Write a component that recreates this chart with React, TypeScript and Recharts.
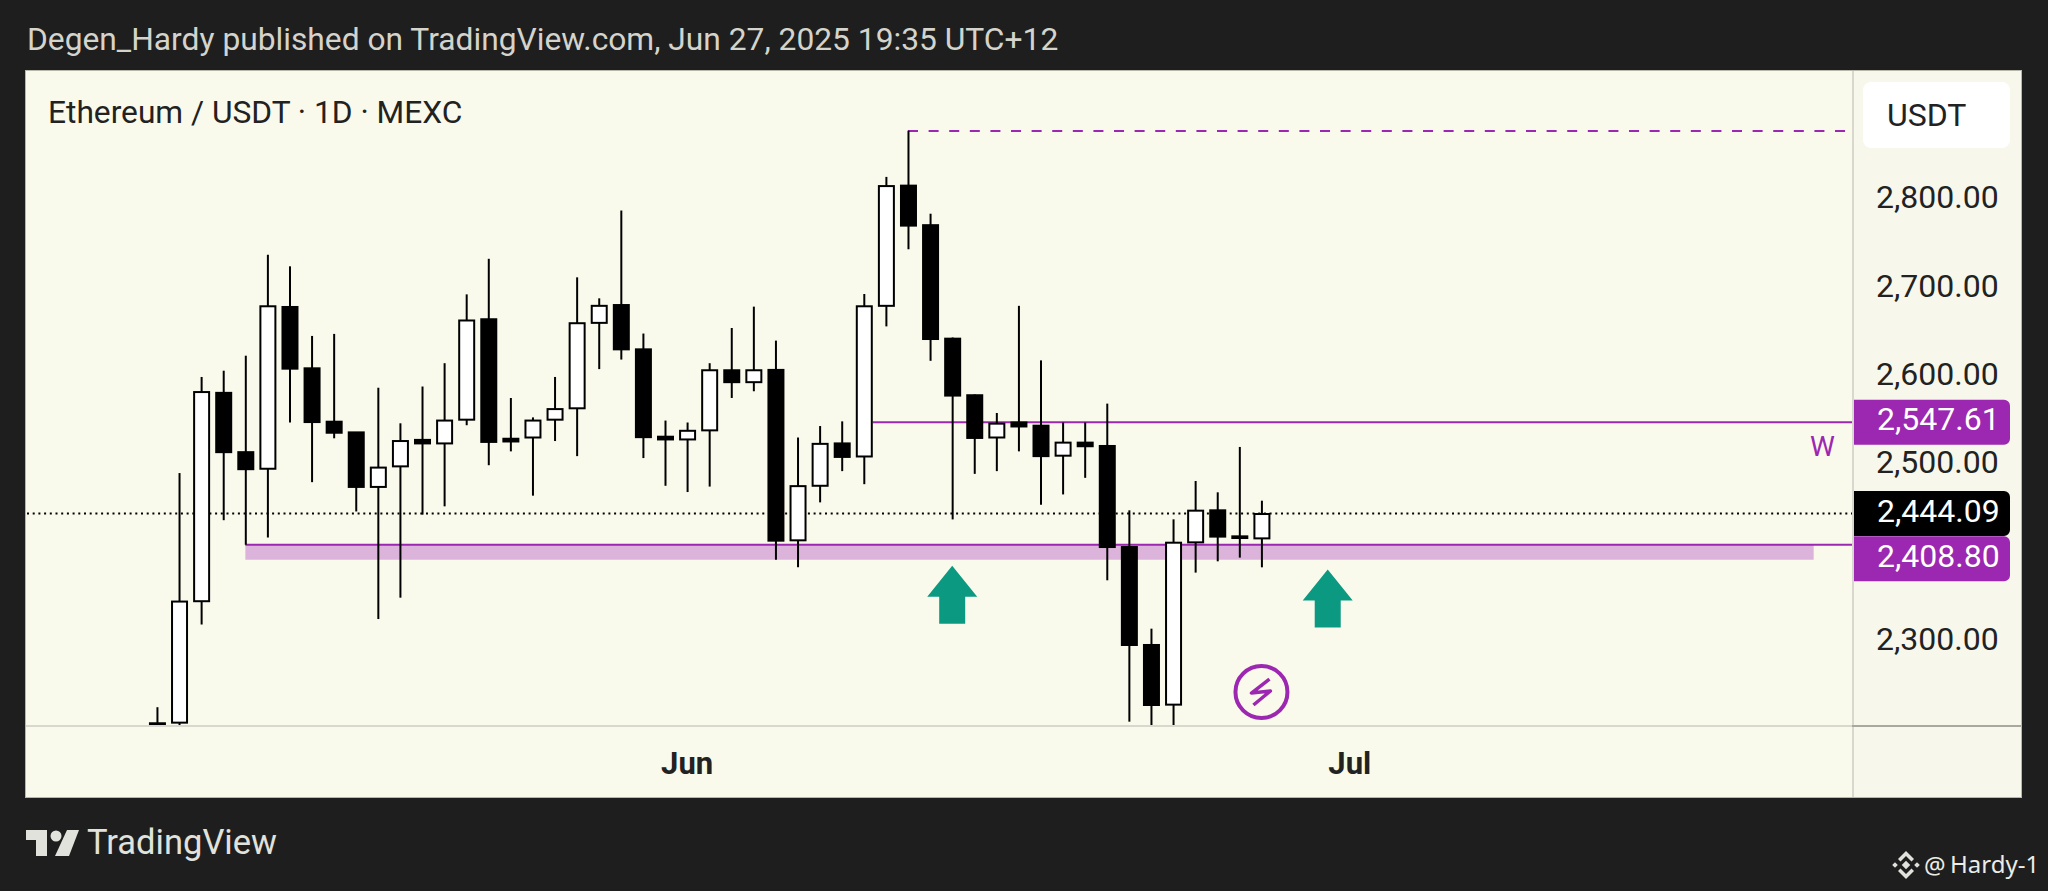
// ETH/USDT daily candles, TradingView snapshot look
import {
  ComposedChart,
  Bar,
  XAxis,
  YAxis,
  ReferenceLine,
  ReferenceArea,
  ReferenceDot,
} from "recharts";

const FONT = "Roboto, sans-serif";
const PURPLE = "#9c27b0";
const ARROW = "#0c9981";

// one candle per day, first one is May 8
const opens = [2206.5, 2207.2, 2344.8, 2580.9, 2513.7, 2494.9, 2678.2, 2608.7, 2548.2, 2536.1, 2474.3, 2497.6, 2527.6, 2523.6, 2550.5, 2664.3, 2528.9, 2530.3, 2550.5, 2563.4, 2660.2, 2680.4, 2630.2, 2531.2, 2528.1, 2538.4, 2606.5, 2593.0, 2606.9, 2413.8, 2475.6, 2523.6, 2508.8, 2679.5, 2815.7, 2770.9, 2642.3, 2578.2, 2530.3, 2547.3, 2543.7, 2509.7, 2524.5, 2520.7, 2406.2, 2295.2, 2227.6, 2411.5, 2447.8, 2418.3, 2416.0];
const highs = [2224.7, 2490.0, 2598.9, 2606.0, 2623.0, 2737.3, 2724.3, 2645.4, 2647.7, 2536.1, 2586.7, 2546.4, 2588.1, 2614.5, 2692.5, 2732.8, 2575.1, 2553.1, 2598.9, 2711.8, 2688.0, 2787.5, 2648.1, 2549.5, 2547.3, 2614.5, 2654.4, 2678.6, 2640.1, 2530.3, 2543.3, 2548.6, 2692.9, 2825.6, 2878.0, 2783.9, 2643.6, 2579.1, 2558.1, 2679.5, 2617.7, 2547.3, 2547.3, 2568.7, 2447.8, 2313.7, 2437.6, 2481.0, 2468.2, 2519.6, 2458.7];
const lows = [2204.0, 2203.7, 2318.4, 2436.6, 2408.8, 2416.9, 2547.3, 2479.7, 2529.4, 2446.5, 2324.6, 2348.8, 2442.9, 2452.3, 2544.2, 2498.9, 2514.6, 2464.4, 2526.3, 2509.2, 2607.8, 2618.6, 2507.0, 2475.6, 2468.5, 2474.7, 2575.1, 2582.7, 2391.8, 2383.3, 2456.8, 2492.2, 2477.4, 2656.2, 2743.6, 2617.2, 2437.5, 2489.1, 2492.2, 2514.6, 2454.1, 2465.8, 2484.6, 2368.5, 2208.3, 2204.2, 2204.2, 2377.2, 2390.0, 2394.2, 2383.2];
const closes = [2205.5, 2344.4, 2581.8, 2513.7, 2494.4, 2679.0, 2608.3, 2547.8, 2535.7, 2474.3, 2496.2, 2526.3, 2523.6, 2549.5, 2662.9, 2525.3, 2525.8, 2549.5, 2562.5, 2659.8, 2679.5, 2630.2, 2530.7, 2528.1, 2537.9, 2606.5, 2593.0, 2606.5, 2413.4, 2475.2, 2523.1, 2508.3, 2679.0, 2815.2, 2770.4, 2641.9, 2577.8, 2529.8, 2546.0, 2542.8, 2509.2, 2524.5, 2520.4, 2406.2, 2295.2, 2227.2, 2411.1, 2447.4, 2418.0, 2416.4, 2443.6];

const monthTicks = [24, 54];
const monthLabels = ["Jun", "Jul"];
const priceTicks = [2300, 2500, 2600, 2700, 2800];

const lastPrice = 2444.09;
const levelHigh = 2547.61;
const levelLow = 2408.8;
const levelTop = 2877.6;
const zoneBottom = 2391.8;

const arrowDays = [36, 53];
const arrowPrices = [2352, 2348];

const candles = opens.map((open, i) => ({
  day: i,
  open,
  high: highs[i],
  low: lows[i],
  close: closes[i],
}));

const DOMAIN_X: [number, number] = [-5.93, 76.78];
const DOMAIN_Y: [number, number] = [2203.4, 2945.6];

function Candle(props: any) {
  const { x, y, width, height, payload } = props;
  const { open, high, low, close } = payload;
  const perUnit = height / (high - low);
  const top = y + (high - Math.max(open, close)) * perUnit;
  const bodyH = Math.abs(open - close) * perUnit;
  const cx = x + width / 2;
  const up = close > open;
  return (
    <g>
      <line x1={cx} x2={cx} y1={y} y2={y + height} stroke="#000" strokeWidth={2} />
      <rect
        x={x + 1}
        y={top}
        width={width - 2}
        height={Math.max(bodyH, 1)}
        fill={up ? "#fff" : "#000"}
        stroke="#000"
        strokeWidth={2}
      />
    </g>
  );
}

function PriceTick(props: any) {
  const { x, y, payload } = props;
  const v = payload.value;
  const label = v.toLocaleString("en-US", { minimumFractionDigits: 2, maximumFractionDigits: 2 });
  if (v === lastPrice || v === levelHigh || v === levelLow) {
    // the lower tag gets pushed down so it does not sit on the last price tag
    const cy = v === levelLow ? y + 14 : y;
    return (
      <g>
        <path
          d={`M${x - 7} ${cy - 22.5} h150 a6 6 0 0 1 6 6 v33 a6 6 0 0 1 -6 6 h-150 z`}
          fill={v === lastPrice ? "#000" : PURPLE}
        />
        <text x={x + 16} y={cy - 3} dominantBaseline="central" fontFamily={FONT} fontSize={32} fill="#fff">
          {label}
        </text>
      </g>
    );
  }
  return (
    <text x={x + 15} y={y - 2} dominantBaseline="central" fontFamily={FONT} fontSize={32} fill="#222">
      {label}
    </text>
  );
}

function UpArrow({ cx, cy }: any) {
  const d = `M${cx} ${cy - 29} L${cx + 25} ${cy + 2} H${cx + 13} V${cy + 29} H${cx - 13} V${cy + 2} H${cx - 25} Z`;
  return <path d={d} fill={ARROW} />;
}

function Bolt({ cx, cy }: any) {
  return (
    <g>
      <circle cx={cx} cy={cy} r={26} fill="none" stroke={PURPLE} strokeWidth={4} />
      <path
        d={`M${cx + 8} ${cy - 13} L${cx - 10} ${cy + 1} L${cx + 9} ${cy - 1} L${cx - 8} ${cy + 13}`}
        fill="none"
        stroke={PURPLE}
        strokeWidth={3.5}
        strokeLinejoin="round"
      />
    </g>
  );
}

function WLabel({ cx, cy }: any) {
  return (
    <text x={cx} y={cy + 1} textAnchor="middle" dominantBaseline="central" fontFamily={FONT} fontSize={28} fill={PURPLE}>
      W
    </text>
  );
}

function TvLogo() {
  return (
    <svg width={54} height={28} viewBox="0 0 54 28" style={{ position: "absolute", left: 26, top: 830 }} fill="#e2e2dc">
      <path d="M0 0H21V26H10V10H0Z" />
      <circle cx={30} cy={6} r={5.5} />
      <path d="M41 0H53L43 26H29Z" />
    </svg>
  );
}

function BinanceMark() {
  return (
    <svg width={28} height={28} viewBox="-14 -14 28 28" style={{ position: "absolute", left: 1892, top: 851 }} fill="#e2e2dc">
      <rect x={-3} y={-3} width={6} height={6} transform="rotate(45)" />
      <rect x={-13} y={-2} width={4} height={4} transform="rotate(45 -11 0)" />
      <rect x={9} y={-2} width={4} height={4} transform="rotate(45 11 0)" />
      <path d="M0 -14L8 -6L5.5 -3.5L0 -9L-5.5 -3.5L-8 -6Z" />
      <path d="M0 14L8 6L5.5 3.5L0 9L-5.5 3.5L-8 6Z" />
    </svg>
  );
}

export default function App() {
  return (
    <div style={{ position: "absolute", left: 0, top: 0, width: 2048, height: 891, background: "#1e1e1e", fontFamily: FONT, overflow: "hidden" }}>
      <div style={{ position: "absolute", left: 27, top: 21, fontSize: 31.75, color: "#d4d4cc", whiteSpace: "nowrap" }}>
        Degen_Hardy published on TradingView.com, Jun 27, 2025 19:35 UTC+12
      </div>

      <div style={{ position: "absolute", left: 26, top: 71, width: 1995, height: 726, background: "#fafaec", boxShadow: "0 0 0 1px #b8b8aa" }}>
        <div style={{ position: "absolute", left: 1828, top: 0, width: 167, height: 726, background: "#f8f7ec" }} />
        <div style={{ position: "absolute", left: 0, top: 0 }}>
          <ComposedChart
            width={1995}
            height={726}
            data={candles}
            margin={{ top: 0, right: 0, bottom: 0, left: 0 }}
          >
            <XAxis
              dataKey="day"
              type="number"
              domain={DOMAIN_X}
              allowDataOverflow
              ticks={monthTicks}
              tickFormatter={(v) => monthLabels[monthTicks.indexOf(v)]}
              height={71}
              interval={0}
              tickLine={false}
              axisLine={{ stroke: "#d8d8ce", strokeWidth: 2 }}
              tick={{ fontFamily: FONT, fontSize: 31, fontWeight: 700, fill: "#222" }}
              tickMargin={20}
            />
            <YAxis
              orientation="right"
              type="number"
              domain={DOMAIN_Y}
              allowDataOverflow
              ticks={[...priceTicks, levelHigh, lastPrice, levelLow]}
              interval={0}
              width={168}
              tickLine={false}
              axisLine={{ stroke: "#d8d8ce", strokeWidth: 2 }}
              tick={<PriceTick />}
            />
            <ReferenceArea x1={4} x2={75} y1={zoneBottom} y2={levelLow} fill="#dcb3da" fillOpacity={1} stroke="none" zIndex={40} />
            <ReferenceLine y={lastPrice} stroke="#000" strokeWidth={2} strokeDasharray="2 3.7" zIndex={50} />
            <ReferenceLine
              segment={[{ x: 4, y: levelLow }, { x: DOMAIN_X[1], y: levelLow }]}
              stroke={PURPLE}
              strokeWidth={2}
              zIndex={50}
            />
            <ReferenceLine
              segment={[{ x: 32.4, y: levelHigh }, { x: DOMAIN_X[1], y: levelHigh }]}
              stroke={PURPLE}
              strokeWidth={2}
              zIndex={50}
            />
            <ReferenceLine
              segment={[{ x: 34, y: levelTop }, { x: DOMAIN_X[1], y: levelTop }]}
              stroke={PURPLE}
              strokeWidth={2}
              strokeDasharray="10 10.6"
              zIndex={50}
            />
            <Bar
              dataKey={(d: any) => [d.low, d.high]}
              barSize={17}
              shape={<Candle />}
              isAnimationActive={false}
            />
            {arrowDays.map((d, i) => (
              <ReferenceDot key={d} x={d} y={arrowPrices[i]} shape={<UpArrow />} />
            ))}
            <ReferenceDot x={50} y={2241.9} shape={<Bolt />} />
            <ReferenceDot x={75.4} y={2520.7} shape={<WLabel />} />
          </ComposedChart>
        </div>

        <div style={{ position: "absolute", left: 22, top: 23, fontSize: 31.7, color: "#222", whiteSpace: "nowrap" }}>
          Ethereum / USDT · 1D · MEXC
        </div>
        <div style={{ position: "absolute", left: 1837, top: 11, width: 147, height: 66, background: "#fff", borderRadius: 8, boxSizing: "border-box", padding: "14px 0 0 24px", fontSize: 32, color: "#222" }}>
          USDT
        </div>
        <div style={{ position: "absolute", left: 1826, top: 0, width: 2, height: 726, background: "#d8d8ce" }} />
        <div style={{ position: "absolute", left: 1826, top: 654, width: 169, height: 2, background: "#a8a8a0" }} />
      </div>

      <TvLogo />
      <div style={{ position: "absolute", left: 87, top: 822, fontSize: 34.5, color: "#e2e2dc", whiteSpace: "nowrap" }}>
        TradingView
      </div>
      <BinanceMark />
      <div style={{ position: "absolute", left: 1924, top: 848, fontSize: 24, color: "#ecece6", fontFamily: "'Noto Sans', sans-serif", whiteSpace: "nowrap" }}>
        @
      </div>
      <div style={{ position: "absolute", left: 1950, top: 847, fontSize: 24, color: "#ecece6", fontFamily: "'Noto Sans', sans-serif", whiteSpace: "nowrap" }}>
        Hardy-1
      </div>
    </div>
  );
}
